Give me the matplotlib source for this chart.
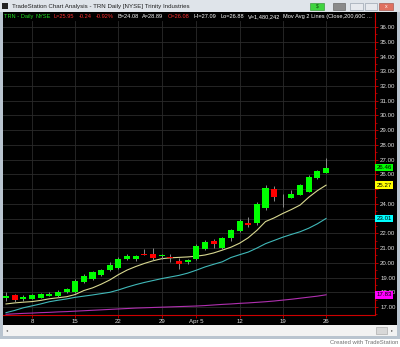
import matplotlib
matplotlib.use("Agg")
import matplotlib.pyplot as plt
from matplotlib.patches import Rectangle
import matplotlib.transforms as mtransforms

# daily OHLC, TRN, Mar 3 - Apr 26 (2010)
opens = [17.62, 17.82, 17.53, 17.57, 17.64, 17.77, 17.75, 18.04, 18.04, 18.72,
         18.93, 19.20, 19.49, 19.63, 20.24, 20.26, 20.62, 20.60, 20.45, 20.35,
         20.12, 20.04, 20.26, 20.92, 21.46, 21.03, 21.71, 22.18, 22.72, 22.72,
         23.70, 25.01, 24.33, 24.40, 24.60, 24.83, 25.76, 26.07]
highs = [18.04, 17.88, 17.84, 17.88, 17.94, 18.02, 18.13, 18.26, 18.90, 19.22,
         19.45, 19.60, 20.04, 20.38, 20.62, 20.54, 20.92, 21.00, 20.57, 20.62,
         20.30, 20.25, 21.30, 21.52, 21.60, 21.77, 22.30, 22.99, 23.10, 24.15,
         25.29, 25.20, 24.67, 24.95, 25.36, 25.95, 26.30, 27.09]
lows = [17.43, 17.32, 17.40, 17.52, 17.60, 17.72, 17.65, 17.96, 17.97, 18.66,
        18.86, 19.13, 19.44, 19.59, 20.17, 20.15, 20.52, 20.20, 20.28, 20.05,
        19.60, 19.90, 20.20, 20.85, 20.99, 20.95, 21.50, 22.08, 22.40, 22.55,
        23.60, 24.20, 23.81, 24.40, 24.60, 24.78, 25.72, 26.07]
closes = [17.78, 17.46, 17.70, 17.82, 17.89, 17.91, 18.04, 18.20, 18.77, 19.13,
          19.36, 19.54, 19.85, 20.24, 20.46, 20.46, 20.53, 20.33, 20.50, 20.33,
          19.92, 20.21, 21.16, 21.41, 21.28, 21.71, 22.21, 22.84, 22.57, 23.97,
          25.08, 24.49, 24.30, 24.67, 25.26, 25.80, 26.21, 26.46]

ma_yellow = [17.21, 17.28, 17.33, 17.37, 17.45, 17.56, 17.63, 17.70, 17.85, 18.12,
             18.30, 18.55, 18.84, 19.20, 19.51, 19.75, 19.96, 20.14, 20.28, 20.34,
             20.37, 20.40, 20.45, 20.53, 20.67, 20.86, 21.06, 21.33, 21.70, 22.20,
             22.80, 23.05, 23.35, 23.62, 23.92, 24.45, 24.90, 25.27]
ma_cyan = [16.62, 16.77, 16.95, 17.08, 17.21, 17.36, 17.46, 17.55, 17.66, 17.74,
           17.82, 17.91, 18.00, 18.16, 18.35, 18.52, 18.67, 18.80, 18.93, 19.04,
           19.15, 19.30, 19.50, 19.72, 19.90, 20.07, 20.36, 20.55, 20.73, 21.00,
           21.30, 21.52, 21.74, 21.93, 22.11, 22.35, 22.65, 23.01]
ma_magenta = [16.51, 16.54, 16.57, 16.59, 16.62, 16.64, 16.67, 16.69, 16.72, 16.75,
              16.78, 16.81, 16.84, 16.87, 16.90, 16.93, 16.95, 16.97, 16.99, 17.01,
              17.03, 17.05, 17.07, 17.10, 17.14, 17.18, 17.21, 17.25, 17.28, 17.32,
              17.36, 17.41, 17.47, 17.53, 17.60, 17.67, 17.74, 17.83]

date_ticks = [3, 8, 13, 18, 22, 27, 32, 37]
date_labels = ['8', '15', '22', '29', 'Apr 5', '12', '19', '26']
price_ticks = list(range(17, 37))

FONT = 'Liberation Sans'
W, H = 400, 347


def fx(px):
    return px / W


def fy(py):
    return 1 - py / H


fig = plt.figure(figsize=(4, 3.47), dpi=100, facecolor='white')


# window chrome, drawn below the axes
def box(x0, y0, x1, y1, **kw):
    fig.patches.append(Rectangle((fx(x0), fy(y1)), fx(x1) - fx(x0), fy(y0) - fy(y1),
                                 transform=fig.transFigure, zorder=-5, **kw))

box(0, 0, 400, 339, fc='#b9c4cf', ec='none')          # frame
box(0, 0, 400, 12, fc='#dfe4ea', ec='none')           # title bar
box(3, 12, 397, 325, fc='black', ec='none')           # chart area
box(3, 325, 397, 336, fc='#f2f2f2', ec='none')        # scrollbar
box(376, 327, 387, 334, fc='#d8d8d8', ec='#a0a0a0', lw=0.4)
box(2, 3, 8, 9, fc='#222222', ec='none')              # app icon
box(310, 3, 324, 10, fc='#3fd43f', ec='#2a8a2a', lw=0.4)
box(333, 3, 345, 10, fc='#8a8a8a', ec='#555555', lw=0.4)
box(350, 3, 363, 10, fc='#e6e9ee', ec='#8a96a4', lw=0.4)
box(365, 3, 377, 10, fc='#e6e9ee', ec='#8a96a4', lw=0.4)
box(379, 3, 393, 10, fc='#e07060', ec='#9a4a40', lw=0.4)

fig.text(fx(12), fy(6.5), 'TradeStation Chart Analysis - TRN Daily [NYSE] Trinity Industries',
         fontsize=4.4, family=FONT, color='#202020', va='center')
fig.text(fx(317), fy(6.5), '$', fontsize=3.5, family=FONT, color='#104010', va='center', ha='center')
fig.text(fx(386), fy(6.5), 'x', fontsize=3.8, family=FONT, color='white', va='center', ha='center')
fig.text(fx(7), fy(330.5), '\u25c2', fontsize=3, color='#606060', va='center', ha='center')
fig.text(fx(392), fy(330.5), '\u25b8', fontsize=3, color='#606060', va='center', ha='center')
fig.text(fx(398), fy(343), 'Created with TradeStation', fontsize=4.2, family=FONT,
         color='#707070', va='center', ha='right')

# info line
info = [(4, 'TRN - Daily', '#22dd22'), (35, 'NYSE', '#22dd22'),
        (53, 'L=25.95', '#ff3030'), (79, '-0.24', '#ff3030'), (96, '-0.92%', '#ff3030'),
        (117, 'B=24.08', 'white'), (142, 'A=28.89', 'white'), (168, 'O=26.08', '#ff3030'),
        (193, 'Hi=27.09', 'white'), (220, 'Lo=26.88', 'white'), (248, 'V=1,480,242', 'white'),
        (283, 'Mov Avg 2 Lines (Close,200,60C ...', 'white')]
for x, s, c in info:
    fig.text(fx(x), fy(16.5), s, fontsize=4.1, family=FONT, color=c, va='center')
fig.lines.append(plt.Line2D([fx(375), fx(375)], [fy(13), fy(21)], color='#cc0000', lw=0.8,
                            transform=fig.transFigure))

# main plot
ax = fig.add_axes([fx(3), fy(315), fx(375) - fx(3), fy(21) - fy(315)])
ax.set_zorder(2)
ax.set_facecolor('black')
ax.set_xlim(-0.35, 42.66)
ax.set_ylim(16.46, 36.41)

for p in price_ticks:
    ax.axhline(p, color='#2b2b2b', lw=0.6, zorder=0)
for t in date_ticks:
    ax.axvline(t, color='#2b2b2b', lw=0.6, zorder=0)

xs = list(range(len(closes)))
ax.plot(xs, ma_magenta, color='#b030b0', lw=0.8, zorder=1)
ax.plot(xs, ma_cyan, color='#40b8b8', lw=0.8, zorder=1)
ax.plot(xs, ma_yellow, color='#d8d890', lw=0.8, zorder=1)

ax.vlines(xs, lows, highs, color='#8a8a8a', lw=0.7, zorder=2)
for i in xs:
    o, c = opens[i], closes[i]
    up = c >= o and i not in (19, 32)
    col = '#00ff00' if up else '#ff0000'
    bottom = min(o, c)
    h = max(abs(c - o), 0.06)
    ax.bar(i, h, bottom=bottom, width=0.7, color=col, edgecolor='none', zorder=3)

for s in ['top', 'left']:
    ax.spines[s].set_visible(False)
ax.spines['right'].set_color('#cc0000')
ax.spines['bottom'].set_color('#cc0000')
ax.spines['right'].set_linewidth(0.8)
ax.spines['bottom'].set_linewidth(0.8)

# tick labels hidden by the value boxes in the reference
hidden = {23, 25}
ax.yaxis.tick_right()
ax.set_yticks(price_ticks)
ax.set_yticklabels(['' if p in hidden else '%.2f' % p for p in price_ticks])
ax.set_yticks([p + 0.5 for p in price_ticks[:-1]] + [16.5], minor=True)
ax.set_xticks(date_ticks)
ax.set_xticklabels(date_labels)
ax.tick_params(axis='y', which='major', colors='#cc0000', labelcolor='#e0e0e0',
               length=2.5, width=0.6, pad=1.2, labelsize=4.4)
ax.tick_params(axis='y', which='minor', colors='#cc0000', length=1.5, width=0.5)
ax.tick_params(axis='x', colors='#cc0000', labelcolor='#e0e0e0', length=2, width=0.6,
               pad=1.2, labelsize=4.4)
for lab in ax.get_xticklabels() + ax.get_yticklabels():
    lab.set_family(FONT)

trans = mtransforms.blended_transform_factory(ax.transAxes, ax.transData)
last_vals = [(closes[-1], '#00ff00'), (ma_yellow[-1], '#ffff00'),
             (ma_cyan[-1], '#00ffff'), (ma_magenta[-1], '#ff00ff')]
for v, c in last_vals:
    ax.text(1.004, v, '%.2f' % v, transform=trans, fontsize=4.4, family=FONT,
            color='black', va='center', ha='left', clip_on=False, zorder=5,
            bbox=dict(boxstyle='square,pad=0.2', fc=c, ec='none'))

fig.savefig('out.png', dpi=100, facecolor='white')
